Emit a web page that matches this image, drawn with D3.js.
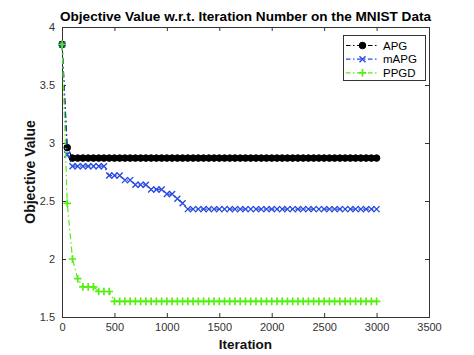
<!DOCTYPE html>
<html><head><meta charset="utf-8">
<script src="https://cdn.jsdelivr.net/npm/d3@7"></script>
<style>body{margin:0;background:#fff}svg{display:block}text{font-family:"Liberation Sans",Arial,Helvetica,sans-serif}</style>
</head><body><svg id="c" width="474" height="355"></svg>
<script>
const iterations = [1,50,100,150,200,250,300,350,400,450,500,550,600,650,700,750,800,850,900,950,1000,1050,1100,1150,1200,1250,1300,1350,1400,1450,1500,1550,1600,1650,1700,1750,1800,1850,1900,1950,2000,2050,2100,2150,2200,2250,2300,2350,2400,2450,2500,2550,2600,2650,2700,2750,2800,2850,2900,2950,3000];
const apg = [3.85,2.96,2.87,2.87,2.87,2.87,2.87,2.87,2.87,2.87,2.87,2.87,2.87,2.87,2.87,2.87,2.87,2.87,2.87,2.87,2.87,2.87,2.87,2.87,2.87,2.87,2.87,2.87,2.87,2.87,2.87,2.87,2.87,2.87,2.87,2.87,2.87,2.87,2.87,2.87,2.87,2.87,2.87,2.87,2.87,2.87,2.87,2.87,2.87,2.87,2.87,2.87,2.87,2.87,2.87,2.87,2.87,2.87,2.87,2.87,2.87];
const mapg = [3.85,2.90,2.80,2.80,2.80,2.80,2.80,2.80,2.80,2.72,2.72,2.72,2.68,2.68,2.64,2.64,2.64,2.60,2.60,2.60,2.56,2.56,2.52,2.48,2.43,2.43,2.43,2.43,2.43,2.43,2.43,2.43,2.43,2.43,2.43,2.43,2.43,2.43,2.43,2.43,2.43,2.43,2.43,2.43,2.43,2.43,2.43,2.43,2.43,2.43,2.43,2.43,2.43,2.43,2.43,2.43,2.43,2.43,2.43,2.43,2.43];
const ppgd = [3.85,2.48,2.00,1.83,1.76,1.76,1.76,1.72,1.72,1.72,1.635,1.635,1.635,1.635,1.635,1.635,1.635,1.635,1.635,1.635,1.635,1.635,1.635,1.635,1.635,1.635,1.635,1.635,1.635,1.635,1.635,1.635,1.635,1.635,1.635,1.635,1.635,1.635,1.635,1.635,1.635,1.635,1.635,1.635,1.635,1.635,1.635,1.635,1.635,1.635,1.635,1.635,1.635,1.635,1.635,1.635,1.635,1.635,1.635,1.635,1.635];
const seriesNames = ["APG","mAPG","PPGD"];
const xTicks = [0,500,1000,1500,2000,2500,3000,3500];
const yTicks = [1.5,2,2.5,3,3.5,4];

const svg = d3.select("#c");
const L = 62, R = 429, T = 27, B = 317;
const x = d3.scaleLinear().domain([0,3500]).range([L,R]);
const y = d3.scaleLinear().domain([1.5,4]).range([B,T]);
const axC = "#333";

// title
svg.append("text").attr("x",(L+R)/2).attr("y",21).attr("text-anchor","middle")
  .attr("font-weight","bold").attr("font-size",13.6).attr("fill","#000")
  .text("Objective Value w.r.t. Iteration Number on the MNIST Data");

// axes
const gx = svg.append("g").attr("transform",`translate(0,${B})`)
  .call(d3.axisBottom(x).tickValues(xTicks).tickSize(-4).tickPadding(6).tickFormat(d3.format("d")));
const gxt = svg.append("g").attr("transform",`translate(0,${T})`)
  .call(d3.axisTop(x).tickValues(xTicks).tickSize(-4).tickFormat(""));
const gy = svg.append("g").attr("transform",`translate(${L},0)`)
  .call(d3.axisLeft(y).tickValues(yTicks).tickSize(-4).tickPadding(7).tickFormat(d=>d));
const gyr = svg.append("g").attr("transform",`translate(${R},0)`)
  .call(d3.axisRight(y).tickValues(yTicks).tickSize(-4).tickFormat(""));
[gx,gxt,gy,gyr].forEach(g=>{
  g.select(".domain").attr("stroke",axC).attr("stroke-width",1);
  g.selectAll(".tick line").attr("stroke",axC);
  g.selectAll("text").attr("font-size",11).attr("fill",axC).attr("font-family","Liberation Sans,Arial,sans-serif");
});

// labels
svg.append("text").attr("x",(L+R)/2).attr("y",349).attr("text-anchor","middle")
  .attr("font-weight","bold").attr("font-size",13.5).attr("fill","#111").text("Iteration");
svg.append("text").attr("transform",`translate(35,${(T+B)/2}) rotate(-90)`).attr("text-anchor","middle")
  .attr("font-weight","bold").attr("font-size",14).attr("fill","#111").text("Objective Value");

const colors = ["#000000","#2a4be0","#55ee11"];
const data = [apg,mapg,ppgd];
const dash = "6,3,1.5,3";
const line = d3.line().x((d,i)=>x(iterations[i])).y(d=>y(d));

function marker(g, type, cx, cy, col){
  if(type===0){
    g.append("circle").attr("cx",cx).attr("cy",cy).attr("r",3.3).attr("fill",col).attr("stroke",col);
  } else if(type===1){
    const s=3;
    g.append("path").attr("d",`M${cx-s},${cy-s}L${cx+s},${cy+s}M${cx-s},${cy+s}L${cx+s},${cy-s}`)
      .attr("stroke",col).attr("stroke-width",1.4).attr("fill","none");
  } else {
    const s=3.8;
    g.append("path").attr("d",`M${cx-s},${cy}L${cx+s},${cy}M${cx},${cy-s}L${cx},${cy+s}`)
      .attr("stroke",col).attr("stroke-width",1.7).attr("fill","none");
  }
}

data.forEach((vals,k)=>{
  const g = svg.append("g");
  g.append("path").attr("d",line(vals)).attr("fill","none").attr("stroke",colors[k])
    .attr("stroke-width",1.2).attr("stroke-dasharray",dash);
  vals.forEach((v,i)=>marker(g,k,x(iterations[i]),y(v),colors[k]));
});

// legend
const lg = svg.append("g");
lg.append("rect").attr("x",343.5).attr("y",35.5).attr("width",82).attr("height",45)
  .attr("fill","#fff").attr("stroke","#333").attr("stroke-width",1);
seriesNames.forEach((n,k)=>{
  const yy = 45.5 + k*13.7;
  lg.append("line").attr("x1",346).attr("x2",379).attr("y1",yy).attr("y2",yy)
    .attr("stroke",colors[k]).attr("stroke-width",1.2).attr("stroke-dasharray","4.5,2.5,1.5,2.5");
  marker(lg,k,362.5,yy,colors[k]);
  lg.append("text").attr("x",383).attr("y",yy+4.2).attr("font-size",11.5).attr("fill","#000").text(n);
});
</script></body></html>
